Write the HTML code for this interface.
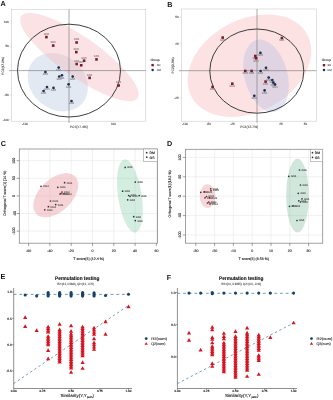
<!DOCTYPE html>
<html><head><meta charset="utf-8"><style>
html,body{margin:0;padding:0;background:#fff;}
svg{display:block;will-change:transform;filter:blur(0.3px);}
text{font-family:"Liberation Sans",sans-serif;text-rendering:geometricPrecision;}
</style></head><body>
<svg width="333" height="400" viewBox="0 0 333 400">
<rect width="333" height="400" fill="#fff"/>
<text x="0.60" y="6.20" font-size="7.2" fill="#111" text-anchor="start" font-weight="bold" >A</text>
<ellipse cx="57.80" cy="82.20" rx="32.40" ry="26.80" transform="rotate(40 57.80 82.20)" fill="#e2e9f2" stroke="none" stroke-width="0.8"/>
<ellipse cx="79.40" cy="57.10" rx="71.10" ry="19.90" transform="rotate(35.25 79.40 57.10)" fill="#f6b9c1" stroke="none" stroke-width="0.8" fill-opacity="0.42"/>
<rect x="11.50" y="9.30" width="134.30" height="111.90" fill="none" stroke="#c9c9c9" stroke-width="0.55"/>
<line x1="69.00" y1="9.30" x2="69.00" y2="123.00" stroke="#727272" stroke-width="0.6"/>
<line x1="9.00" y1="70.60" x2="145.90" y2="70.60" stroke="#727272" stroke-width="0.6"/>
<ellipse cx="69.00" cy="70.60" rx="51.50" ry="46.40" transform="rotate(0 69.00 70.60)" fill="none" stroke="#2a2a2a" stroke-width="0.9"/>
<line x1="9.60" y1="21.60" x2="11.50" y2="21.60" stroke="#c9c9c9" stroke-width="0.5"/>
<text x="8.80" y="22.70" font-size="3.0" fill="#666" text-anchor="end" font-weight="normal" stroke="#666" stroke-width="0.14" >100</text>
<line x1="9.60" y1="46.10" x2="11.50" y2="46.10" stroke="#c9c9c9" stroke-width="0.5"/>
<text x="8.80" y="47.20" font-size="3.0" fill="#666" text-anchor="end" font-weight="normal" stroke="#666" stroke-width="0.14" >50</text>
<line x1="9.60" y1="95.10" x2="11.50" y2="95.10" stroke="#c9c9c9" stroke-width="0.5"/>
<text x="8.80" y="96.20" font-size="3.0" fill="#666" text-anchor="end" font-weight="normal" stroke="#666" stroke-width="0.14" >-50</text>
<line x1="9.60" y1="119.60" x2="11.50" y2="119.60" stroke="#c9c9c9" stroke-width="0.5"/>
<text x="8.80" y="120.70" font-size="3.0" fill="#666" text-anchor="end" font-weight="normal" stroke="#666" stroke-width="0.14" >-100</text>
<line x1="25.00" y1="121.20" x2="25.00" y2="122.80" stroke="#c9c9c9" stroke-width="0.5"/>
<text x="25.00" y="125.20" font-size="3.0" fill="#666" text-anchor="middle" font-weight="normal" stroke="#666" stroke-width="0.14" >-100</text>
<line x1="113.40" y1="121.20" x2="113.40" y2="122.80" stroke="#c9c9c9" stroke-width="0.5"/>
<text x="113.40" y="125.20" font-size="3.0" fill="#666" text-anchor="middle" font-weight="normal" stroke="#666" stroke-width="0.14" >100</text>
<text x="3.80" y="66.00" font-size="3.3" fill="#666" text-anchor="middle" font-weight="normal" stroke="#666" stroke-width="0.14" transform="rotate(-90 3.80 66.00)" >PC2(17.8%)</text>
<text x="78.80" y="128.30" font-size="3.3" fill="#666" text-anchor="middle" font-weight="normal" stroke="#666" stroke-width="0.14" >PC1(17.4%)</text>
<text x="150.40" y="61.00" font-size="3.3" fill="#555" text-anchor="start" font-weight="normal" stroke="#555" stroke-width="0.14" >Group</text>
<rect x="151.40" y="63.90" width="2.4" height="2.4" fill="#7c1a2a"/>
<text x="156.80" y="66.20" font-size="2.6" fill="#666" text-anchor="start" font-weight="normal" stroke="#666" stroke-width="0.14" >SN</text>
<circle cx="152.60" cy="70.10" r="1.25" fill="#1b2f55"/>
<text x="156.80" y="71.20" font-size="2.6" fill="#666" text-anchor="start" font-weight="normal" stroke="#666" stroke-width="0.14" >NM</text>
<rect x="45.10" y="35.80" width="2.6" height="2.6" fill="#7c1a2a"/>
<text x="46.40" y="34.90" font-size="2.8" fill="#8c8c8c" text-anchor="middle" font-weight="normal" stroke="#8c8c8c" stroke-width="0.14" >SN1</text>
<rect x="51.90" y="44.30" width="2.6" height="2.6" fill="#7c1a2a"/>
<text x="53.20" y="43.40" font-size="2.8" fill="#8c8c8c" text-anchor="middle" font-weight="normal" stroke="#8c8c8c" stroke-width="0.14" >SN1</text>
<rect x="75.30" y="41.20" width="2.6" height="2.6" fill="#7c1a2a"/>
<text x="76.60" y="40.30" font-size="2.8" fill="#8c8c8c" text-anchor="middle" font-weight="normal" stroke="#8c8c8c" stroke-width="0.14" >SN1</text>
<rect x="75.00" y="50.80" width="2.6" height="2.6" fill="#7c1a2a"/>
<text x="76.30" y="49.90" font-size="2.8" fill="#8c8c8c" text-anchor="middle" font-weight="normal" stroke="#8c8c8c" stroke-width="0.14" >SN1</text>
<rect x="82.80" y="59.40" width="2.6" height="2.6" fill="#7c1a2a"/>
<text x="84.10" y="58.50" font-size="2.8" fill="#8c8c8c" text-anchor="middle" font-weight="normal" stroke="#8c8c8c" stroke-width="0.14" >SN1</text>
<rect x="75.40" y="62.70" width="2.6" height="2.6" fill="#7c1a2a"/>
<text x="76.70" y="61.80" font-size="2.8" fill="#8c8c8c" text-anchor="middle" font-weight="normal" stroke="#8c8c8c" stroke-width="0.14" >SN1</text>
<rect x="79.90" y="64.00" width="2.6" height="2.6" fill="#7c1a2a"/>
<text x="81.20" y="63.10" font-size="2.8" fill="#8c8c8c" text-anchor="middle" font-weight="normal" stroke="#8c8c8c" stroke-width="0.14" >SN1</text>
<rect x="95.20" y="58.10" width="2.6" height="2.6" fill="#7c1a2a"/>
<text x="96.50" y="57.20" font-size="2.8" fill="#8c8c8c" text-anchor="middle" font-weight="normal" stroke="#8c8c8c" stroke-width="0.14" >SN1</text>
<rect x="88.30" y="76.60" width="2.6" height="2.6" fill="#7c1a2a"/>
<text x="89.60" y="75.70" font-size="2.8" fill="#8c8c8c" text-anchor="middle" font-weight="normal" stroke="#8c8c8c" stroke-width="0.14" >SN1</text>
<rect x="117.30" y="84.20" width="2.6" height="2.6" fill="#7c1a2a"/>
<text x="118.60" y="83.30" font-size="2.8" fill="#8c8c8c" text-anchor="middle" font-weight="normal" stroke="#8c8c8c" stroke-width="0.14" >SN1</text>
<circle cx="58.70" cy="67.60" r="1.35" fill="#1b2f55"/>
<text x="58.70" y="70.90" font-size="2.8" fill="#8c8c8c" text-anchor="middle" font-weight="normal" stroke="#8c8c8c" stroke-width="0.14" >SN1</text>
<circle cx="45.40" cy="72.10" r="1.35" fill="#1b2f55"/>
<text x="45.40" y="75.40" font-size="2.8" fill="#8c8c8c" text-anchor="middle" font-weight="normal" stroke="#8c8c8c" stroke-width="0.14" >SN1</text>
<circle cx="59.20" cy="76.60" r="1.35" fill="#1b2f55"/>
<text x="59.20" y="79.90" font-size="2.8" fill="#8c8c8c" text-anchor="middle" font-weight="normal" stroke="#8c8c8c" stroke-width="0.14" >SN1</text>
<circle cx="61.90" cy="75.30" r="1.35" fill="#1b2f55"/>
<text x="61.90" y="78.60" font-size="2.8" fill="#8c8c8c" text-anchor="middle" font-weight="normal" stroke="#8c8c8c" stroke-width="0.14" >SN1</text>
<circle cx="72.70" cy="76.60" r="1.35" fill="#1b2f55"/>
<text x="72.70" y="79.90" font-size="2.8" fill="#8c8c8c" text-anchor="middle" font-weight="normal" stroke="#8c8c8c" stroke-width="0.14" >SN1</text>
<circle cx="68.60" cy="84.30" r="1.35" fill="#1b2f55"/>
<text x="68.60" y="87.60" font-size="2.8" fill="#8c8c8c" text-anchor="middle" font-weight="normal" stroke="#8c8c8c" stroke-width="0.14" >SN1</text>
<circle cx="47.00" cy="87.00" r="1.35" fill="#1b2f55"/>
<text x="47.00" y="90.30" font-size="2.8" fill="#8c8c8c" text-anchor="middle" font-weight="normal" stroke="#8c8c8c" stroke-width="0.14" >SN1</text>
<circle cx="53.50" cy="87.90" r="1.35" fill="#1b2f55"/>
<text x="53.50" y="91.20" font-size="2.8" fill="#8c8c8c" text-anchor="middle" font-weight="normal" stroke="#8c8c8c" stroke-width="0.14" >SN1</text>
<circle cx="43.60" cy="91.00" r="1.35" fill="#1b2f55"/>
<text x="43.60" y="94.30" font-size="2.8" fill="#8c8c8c" text-anchor="middle" font-weight="normal" stroke="#8c8c8c" stroke-width="0.14" >SN1</text>
<circle cx="71.50" cy="101.10" r="1.35" fill="#1b2f55"/>
<text x="71.50" y="104.40" font-size="2.8" fill="#8c8c8c" text-anchor="middle" font-weight="normal" stroke="#8c8c8c" stroke-width="0.14" >SN1</text>
<text x="167.20" y="7.20" font-size="7.2" fill="#111" text-anchor="start" font-weight="bold" >B</text>
<ellipse cx="249.40" cy="65.70" rx="65.70" ry="46.20" transform="rotate(-28.4 249.40 65.70)" fill="#fce2e3" stroke="none" stroke-width="0.8"/>
<ellipse cx="266.00" cy="75.80" rx="21.50" ry="37.00" transform="rotate(-15 266.00 75.80)" fill="rgb(185,190,225)" stroke="none" stroke-width="0.8" fill-opacity="0.42"/>
<rect x="181.30" y="9.00" width="135.10" height="112.20" fill="none" stroke="#c9c9c9" stroke-width="0.55"/>
<line x1="257.00" y1="9.00" x2="257.00" y2="123.00" stroke="#727272" stroke-width="0.6"/>
<line x1="179.00" y1="70.70" x2="316.40" y2="70.70" stroke="#727272" stroke-width="0.6"/>
<ellipse cx="256.80" cy="71.10" rx="47.00" ry="42.10" transform="rotate(0 256.80 71.10)" fill="none" stroke="#2a2a2a" stroke-width="0.9"/>
<line x1="179.50" y1="16.80" x2="181.30" y2="16.80" stroke="#c9c9c9" stroke-width="0.5"/>
<text x="178.60" y="17.90" font-size="3.0" fill="#666" text-anchor="end" font-weight="normal" stroke="#666" stroke-width="0.14" >50</text>
<line x1="179.50" y1="43.40" x2="181.30" y2="43.40" stroke="#c9c9c9" stroke-width="0.5"/>
<text x="178.60" y="44.50" font-size="3.0" fill="#666" text-anchor="end" font-weight="normal" stroke="#666" stroke-width="0.14" >25</text>
<line x1="179.50" y1="98.00" x2="181.30" y2="98.00" stroke="#c9c9c9" stroke-width="0.5"/>
<text x="178.60" y="99.10" font-size="3.0" fill="#666" text-anchor="end" font-weight="normal" stroke="#666" stroke-width="0.14" >-25</text>
<line x1="185.00" y1="121.20" x2="185.00" y2="122.80" stroke="#c9c9c9" stroke-width="0.5"/>
<text x="185.00" y="125.00" font-size="3.0" fill="#666" text-anchor="middle" font-weight="normal" stroke="#666" stroke-width="0.14" >-100</text>
<line x1="208.80" y1="121.20" x2="208.80" y2="122.80" stroke="#c9c9c9" stroke-width="0.5"/>
<text x="208.80" y="125.00" font-size="3.0" fill="#666" text-anchor="middle" font-weight="normal" stroke="#666" stroke-width="0.14" >-50</text>
<line x1="232.40" y1="121.20" x2="232.40" y2="122.80" stroke="#c9c9c9" stroke-width="0.5"/>
<text x="232.40" y="125.00" font-size="3.0" fill="#666" text-anchor="middle" font-weight="normal" stroke="#666" stroke-width="0.14" >-25</text>
<line x1="281.00" y1="121.20" x2="281.00" y2="122.80" stroke="#c9c9c9" stroke-width="0.5"/>
<text x="281.00" y="125.00" font-size="3.0" fill="#666" text-anchor="middle" font-weight="normal" stroke="#666" stroke-width="0.14" >25</text>
<line x1="305.50" y1="121.20" x2="305.50" y2="122.80" stroke="#c9c9c9" stroke-width="0.5"/>
<text x="305.50" y="125.00" font-size="3.0" fill="#666" text-anchor="middle" font-weight="normal" stroke="#666" stroke-width="0.14" >50</text>
<text x="173.80" y="65.50" font-size="3.3" fill="#666" text-anchor="middle" font-weight="normal" stroke="#666" stroke-width="0.14" transform="rotate(-90 173.80 65.50)" >PC2(8.5%)</text>
<text x="249.20" y="128.30" font-size="3.3" fill="#666" text-anchor="middle" font-weight="normal" stroke="#666" stroke-width="0.14" >PC1(13.7%)</text>
<text x="321.80" y="61.00" font-size="3.3" fill="#555" text-anchor="start" font-weight="normal" stroke="#555" stroke-width="0.14" >Group</text>
<rect x="322.80" y="64.00" width="2.4" height="2.4" fill="#7c1a2a"/>
<text x="327.60" y="66.30" font-size="2.6" fill="#666" text-anchor="start" font-weight="normal" stroke="#666" stroke-width="0.14" >SN</text>
<circle cx="324.00" cy="70.10" r="1.25" fill="#1b2f55"/>
<text x="327.60" y="71.20" font-size="2.6" fill="#666" text-anchor="start" font-weight="normal" stroke="#666" stroke-width="0.14" >NM</text>
<rect x="221.40" y="36.30" width="2.6" height="2.6" fill="#7c1a2a"/>
<text x="222.70" y="40.90" font-size="2.8" fill="#8c8c8c" text-anchor="middle" font-weight="normal" stroke="#8c8c8c" stroke-width="0.14" >SN1</text>
<rect x="280.60" y="36.80" width="2.6" height="2.6" fill="#7c1a2a"/>
<text x="281.90" y="41.40" font-size="2.8" fill="#8c8c8c" text-anchor="middle" font-weight="normal" stroke="#8c8c8c" stroke-width="0.14" >SN1</text>
<rect x="254.00" y="54.70" width="2.6" height="2.6" fill="#7c1a2a"/>
<text x="255.30" y="59.30" font-size="2.8" fill="#8c8c8c" text-anchor="middle" font-weight="normal" stroke="#8c8c8c" stroke-width="0.14" >SN1</text>
<rect x="254.70" y="57.00" width="2.6" height="2.6" fill="#7c1a2a"/>
<text x="256.00" y="61.60" font-size="2.8" fill="#8c8c8c" text-anchor="middle" font-weight="normal" stroke="#8c8c8c" stroke-width="0.14" >SN1</text>
<rect x="244.00" y="69.70" width="2.6" height="2.6" fill="#7c1a2a"/>
<text x="245.30" y="74.30" font-size="2.8" fill="#8c8c8c" text-anchor="middle" font-weight="normal" stroke="#8c8c8c" stroke-width="0.14" >SN1</text>
<rect x="250.30" y="69.70" width="2.6" height="2.6" fill="#7c1a2a"/>
<text x="251.60" y="74.30" font-size="2.8" fill="#8c8c8c" text-anchor="middle" font-weight="normal" stroke="#8c8c8c" stroke-width="0.14" >SN1</text>
<rect x="231.00" y="82.40" width="2.6" height="2.6" fill="#7c1a2a"/>
<text x="232.30" y="87.00" font-size="2.8" fill="#8c8c8c" text-anchor="middle" font-weight="normal" stroke="#8c8c8c" stroke-width="0.14" >SN1</text>
<rect x="264.30" y="80.30" width="2.6" height="2.6" fill="#7c1a2a"/>
<text x="265.60" y="84.90" font-size="2.8" fill="#8c8c8c" text-anchor="middle" font-weight="normal" stroke="#8c8c8c" stroke-width="0.14" >SN1</text>
<rect x="211.30" y="85.70" width="2.6" height="2.6" fill="#7c1a2a"/>
<text x="212.60" y="90.30" font-size="2.8" fill="#8c8c8c" text-anchor="middle" font-weight="normal" stroke="#8c8c8c" stroke-width="0.14" >SN1</text>
<circle cx="260.40" cy="52.90" r="1.35" fill="#1b2f55"/>
<text x="260.40" y="56.20" font-size="2.8" fill="#8c8c8c" text-anchor="middle" font-weight="normal" stroke="#8c8c8c" stroke-width="0.14" >SN1</text>
<circle cx="266.00" cy="67.80" r="1.35" fill="#1b2f55"/>
<text x="266.00" y="71.10" font-size="2.8" fill="#8c8c8c" text-anchor="middle" font-weight="normal" stroke="#8c8c8c" stroke-width="0.14" >SN1</text>
<circle cx="260.60" cy="71.00" r="1.35" fill="#1b2f55"/>
<text x="260.60" y="74.30" font-size="2.8" fill="#8c8c8c" text-anchor="middle" font-weight="normal" stroke="#8c8c8c" stroke-width="0.14" >SN1</text>
<circle cx="268.70" cy="77.60" r="1.35" fill="#1b2f55"/>
<text x="268.70" y="80.90" font-size="2.8" fill="#8c8c8c" text-anchor="middle" font-weight="normal" stroke="#8c8c8c" stroke-width="0.14" >SN1</text>
<circle cx="272.30" cy="80.00" r="1.35" fill="#1b2f55"/>
<text x="272.30" y="83.30" font-size="2.8" fill="#8c8c8c" text-anchor="middle" font-weight="normal" stroke="#8c8c8c" stroke-width="0.14" >SN1</text>
<circle cx="273.20" cy="82.60" r="1.35" fill="#1b2f55"/>
<text x="273.20" y="85.90" font-size="2.8" fill="#8c8c8c" text-anchor="middle" font-weight="normal" stroke="#8c8c8c" stroke-width="0.14" >SN1</text>
<circle cx="275.00" cy="84.40" r="1.35" fill="#1b2f55"/>
<text x="275.00" y="87.70" font-size="2.8" fill="#8c8c8c" text-anchor="middle" font-weight="normal" stroke="#8c8c8c" stroke-width="0.14" >SN1</text>
<circle cx="264.60" cy="90.40" r="1.35" fill="#1b2f55"/>
<text x="264.60" y="93.70" font-size="2.8" fill="#8c8c8c" text-anchor="middle" font-weight="normal" stroke="#8c8c8c" stroke-width="0.14" >SN1</text>
<circle cx="254.30" cy="95.80" r="1.35" fill="#1b2f55"/>
<text x="254.30" y="99.10" font-size="2.8" fill="#8c8c8c" text-anchor="middle" font-weight="normal" stroke="#8c8c8c" stroke-width="0.14" >SN1</text>
<text x="0.80" y="145.60" font-size="7.2" fill="#111" text-anchor="start" font-weight="bold" >C</text>
<line x1="28.60" y1="149.00" x2="28.60" y2="243.20" stroke="#e3e3e3" stroke-width="0.5"/>
<line x1="49.90" y1="149.00" x2="49.90" y2="243.20" stroke="#e3e3e3" stroke-width="0.5"/>
<line x1="71.20" y1="149.00" x2="71.20" y2="243.20" stroke="#e3e3e3" stroke-width="0.5"/>
<line x1="92.50" y1="149.00" x2="92.50" y2="243.20" stroke="#e3e3e3" stroke-width="0.5"/>
<line x1="113.80" y1="149.00" x2="113.80" y2="243.20" stroke="#e3e3e3" stroke-width="0.5"/>
<line x1="135.10" y1="149.00" x2="135.10" y2="243.20" stroke="#e3e3e3" stroke-width="0.5"/>
<line x1="156.40" y1="149.00" x2="156.40" y2="243.20" stroke="#e3e3e3" stroke-width="0.5"/>
<line x1="19.30" y1="231.10" x2="157.40" y2="231.10" stroke="#e3e3e3" stroke-width="0.5"/>
<line x1="19.30" y1="213.50" x2="157.40" y2="213.50" stroke="#e3e3e3" stroke-width="0.5"/>
<line x1="19.30" y1="195.90" x2="157.40" y2="195.90" stroke="#e3e3e3" stroke-width="0.5"/>
<line x1="19.30" y1="178.30" x2="157.40" y2="178.30" stroke="#e3e3e3" stroke-width="0.5"/>
<line x1="19.30" y1="160.70" x2="157.40" y2="160.70" stroke="#e3e3e3" stroke-width="0.5"/>
<ellipse cx="55.80" cy="195.20" rx="27.00" ry="16.30" transform="rotate(-44 55.80 195.20)" fill="#e89a9f" stroke="none" stroke-width="0.8" fill-opacity="0.43"/>
<ellipse cx="129.90" cy="196.00" rx="11.80" ry="37.00" transform="rotate(-8.6 129.90 196.00)" fill="#7fcca6" stroke="none" stroke-width="0.8" fill-opacity="0.34"/>
<rect x="19.30" y="149.00" width="138.10" height="94.20" fill="none" stroke="#8a8a8a" stroke-width="0.8"/>
<line x1="16.70" y1="231.10" x2="19.30" y2="231.10" stroke="#555" stroke-width="0.55"/>
<text x="15.50" y="231.10" font-size="3.6" fill="#333" text-anchor="middle" font-weight="normal" stroke="#333" stroke-width="0.14" transform="rotate(-90 15.50 231.10)" >-100</text>
<line x1="16.70" y1="213.50" x2="19.30" y2="213.50" stroke="#555" stroke-width="0.55"/>
<text x="15.50" y="213.50" font-size="3.6" fill="#333" text-anchor="middle" font-weight="normal" stroke="#333" stroke-width="0.14" transform="rotate(-90 15.50 213.50)" >-50</text>
<line x1="16.70" y1="195.90" x2="19.30" y2="195.90" stroke="#555" stroke-width="0.55"/>
<text x="15.50" y="195.90" font-size="3.6" fill="#333" text-anchor="middle" font-weight="normal" stroke="#333" stroke-width="0.14" transform="rotate(-90 15.50 195.90)" >0</text>
<line x1="16.70" y1="178.30" x2="19.30" y2="178.30" stroke="#555" stroke-width="0.55"/>
<text x="15.50" y="178.30" font-size="3.6" fill="#333" text-anchor="middle" font-weight="normal" stroke="#333" stroke-width="0.14" transform="rotate(-90 15.50 178.30)" >50</text>
<line x1="16.70" y1="160.70" x2="19.30" y2="160.70" stroke="#555" stroke-width="0.55"/>
<text x="15.50" y="160.70" font-size="3.6" fill="#333" text-anchor="middle" font-weight="normal" stroke="#333" stroke-width="0.14" transform="rotate(-90 15.50 160.70)" >100</text>
<line x1="28.60" y1="243.20" x2="28.60" y2="246.00" stroke="#555" stroke-width="0.55"/>
<text x="28.60" y="251.80" font-size="3.6" fill="#333" text-anchor="middle" font-weight="normal" stroke="#333" stroke-width="0.14" >-60</text>
<line x1="49.90" y1="243.20" x2="49.90" y2="246.00" stroke="#555" stroke-width="0.55"/>
<text x="49.90" y="251.80" font-size="3.6" fill="#333" text-anchor="middle" font-weight="normal" stroke="#333" stroke-width="0.14" >-40</text>
<line x1="71.20" y1="243.20" x2="71.20" y2="246.00" stroke="#555" stroke-width="0.55"/>
<text x="71.20" y="251.80" font-size="3.6" fill="#333" text-anchor="middle" font-weight="normal" stroke="#333" stroke-width="0.14" >-20</text>
<line x1="92.50" y1="243.20" x2="92.50" y2="246.00" stroke="#555" stroke-width="0.55"/>
<text x="92.50" y="251.80" font-size="3.6" fill="#333" text-anchor="middle" font-weight="normal" stroke="#333" stroke-width="0.14" >0</text>
<line x1="113.80" y1="243.20" x2="113.80" y2="246.00" stroke="#555" stroke-width="0.55"/>
<text x="113.80" y="251.80" font-size="3.6" fill="#333" text-anchor="middle" font-weight="normal" stroke="#333" stroke-width="0.14" >20</text>
<line x1="135.10" y1="243.20" x2="135.10" y2="246.00" stroke="#555" stroke-width="0.55"/>
<text x="135.10" y="251.80" font-size="3.6" fill="#333" text-anchor="middle" font-weight="normal" stroke="#333" stroke-width="0.14" >40</text>
<line x1="156.40" y1="243.20" x2="156.40" y2="246.00" stroke="#555" stroke-width="0.55"/>
<text x="156.40" y="251.80" font-size="3.6" fill="#333" text-anchor="middle" font-weight="normal" stroke="#333" stroke-width="0.14" >60</text>
<text x="6.50" y="193.20" font-size="3.8" fill="#333" text-anchor="middle" font-weight="normal" stroke="#333" stroke-width="0.14" textLength="45.5" lengthAdjust="spacingAndGlyphs" transform="rotate(-90 6.50 193.20)" >Orthogonal T score[1] (14 %)</text>
<text x="88.80" y="260.00" font-size="3.5" fill="#333" text-anchor="middle" font-weight="normal" stroke="#333" stroke-width="0.14" textLength="31" lengthAdjust="spacingAndGlyphs" >T score[1] (12.4 %)</text>
<rect x="143.60" y="149.00" width="13.80" height="12.40" fill="#fff" stroke="#8a8a8a" stroke-width="0.5"/>
<circle cx="146.70" cy="152.70" r="0.85" fill="#3a2a2c"/>
<text x="149.60" y="154.20" font-size="3.4" fill="#222" text-anchor="start" font-weight="normal" stroke="#222" stroke-width="0.14" >DM</text>
<circle cx="146.70" cy="157.20" r="0.85" fill="#2a3530"/>
<text x="149.60" y="158.70" font-size="3.4" fill="#222" text-anchor="start" font-weight="normal" stroke="#222" stroke-width="0.14" >GS</text>
<circle cx="41.00" cy="186.30" r="0.85" fill="#6a2029"/>
<text x="43.10" y="187.20" font-size="2.6" fill="#6a6a6a" text-anchor="start" font-weight="normal" stroke="#6a6a6a" stroke-width="0.14" >DM4</text>
<circle cx="64.60" cy="182.70" r="0.85" fill="#6a2029"/>
<text x="66.70" y="183.60" font-size="2.6" fill="#6a6a6a" text-anchor="start" font-weight="normal" stroke="#6a6a6a" stroke-width="0.14" >DM4</text>
<circle cx="57.80" cy="187.30" r="0.85" fill="#6a2029"/>
<text x="59.90" y="188.20" font-size="2.6" fill="#6a6a6a" text-anchor="start" font-weight="normal" stroke="#6a6a6a" stroke-width="0.14" >DM4</text>
<circle cx="62.00" cy="192.00" r="0.85" fill="#6a2029"/>
<text x="64.10" y="192.90" font-size="2.6" fill="#6a6a6a" text-anchor="start" font-weight="normal" stroke="#6a6a6a" stroke-width="0.14" >DM4</text>
<circle cx="61.00" cy="193.60" r="0.85" fill="#6a2029"/>
<text x="63.10" y="194.50" font-size="2.6" fill="#6a6a6a" text-anchor="start" font-weight="normal" stroke="#6a6a6a" stroke-width="0.14" >DM4</text>
<circle cx="64.10" cy="193.60" r="0.85" fill="#6a2029"/>
<text x="66.20" y="194.50" font-size="2.6" fill="#6a6a6a" text-anchor="start" font-weight="normal" stroke="#6a6a6a" stroke-width="0.14" >DM4</text>
<circle cx="60.00" cy="194.00" r="0.85" fill="#6a2029"/>
<text x="62.10" y="194.90" font-size="2.6" fill="#6a6a6a" text-anchor="start" font-weight="normal" stroke="#6a6a6a" stroke-width="0.14" >DM4</text>
<circle cx="50.50" cy="201.00" r="0.85" fill="#6a2029"/>
<text x="52.60" y="201.90" font-size="2.6" fill="#6a6a6a" text-anchor="start" font-weight="normal" stroke="#6a6a6a" stroke-width="0.14" >DM4</text>
<circle cx="55.70" cy="204.60" r="0.85" fill="#6a2029"/>
<text x="57.80" y="205.50" font-size="2.6" fill="#6a6a6a" text-anchor="start" font-weight="normal" stroke="#6a6a6a" stroke-width="0.14" >DM4</text>
<circle cx="48.40" cy="206.70" r="0.85" fill="#6a2029"/>
<text x="50.50" y="207.60" font-size="2.6" fill="#6a6a6a" text-anchor="start" font-weight="normal" stroke="#6a6a6a" stroke-width="0.14" >DM4</text>
<circle cx="44.80" cy="209.80" r="0.85" fill="#6a2029"/>
<text x="46.90" y="210.70" font-size="2.6" fill="#6a6a6a" text-anchor="start" font-weight="normal" stroke="#6a6a6a" stroke-width="0.14" >DM4</text>
<circle cx="125.20" cy="167.40" r="0.85" fill="#1d3d2e"/>
<text x="127.30" y="168.30" font-size="2.6" fill="#6a6a6a" text-anchor="start" font-weight="normal" stroke="#6a6a6a" stroke-width="0.14" >GS6</text>
<circle cx="135.30" cy="182.10" r="0.85" fill="#1d3d2e"/>
<text x="137.40" y="183.00" font-size="2.6" fill="#6a6a6a" text-anchor="start" font-weight="normal" stroke="#6a6a6a" stroke-width="0.14" >GS6</text>
<circle cx="122.60" cy="191.20" r="0.85" fill="#1d3d2e"/>
<text x="124.70" y="192.10" font-size="2.6" fill="#6a6a6a" text-anchor="start" font-weight="normal" stroke="#6a6a6a" stroke-width="0.14" >GS6</text>
<circle cx="128.70" cy="195.50" r="0.85" fill="#1d3d2e"/>
<text x="130.80" y="196.40" font-size="2.6" fill="#6a6a6a" text-anchor="start" font-weight="normal" stroke="#6a6a6a" stroke-width="0.14" >GS6</text>
<circle cx="130.10" cy="196.30" r="0.85" fill="#1d3d2e"/>
<text x="132.20" y="197.20" font-size="2.6" fill="#6a6a6a" text-anchor="start" font-weight="normal" stroke="#6a6a6a" stroke-width="0.14" >GS6</text>
<circle cx="139.20" cy="195.60" r="0.85" fill="#1d3d2e"/>
<text x="141.30" y="196.50" font-size="2.6" fill="#6a6a6a" text-anchor="start" font-weight="normal" stroke="#6a6a6a" stroke-width="0.14" >GS6</text>
<circle cx="127.70" cy="199.80" r="0.85" fill="#1d3d2e"/>
<text x="129.80" y="200.70" font-size="2.6" fill="#6a6a6a" text-anchor="start" font-weight="normal" stroke="#6a6a6a" stroke-width="0.14" >GS6</text>
<circle cx="133.70" cy="216.70" r="0.85" fill="#1d3d2e"/>
<text x="135.80" y="217.60" font-size="2.6" fill="#6a6a6a" text-anchor="start" font-weight="normal" stroke="#6a6a6a" stroke-width="0.14" >GS6</text>
<circle cx="135.30" cy="220.60" r="0.85" fill="#1d3d2e"/>
<text x="137.40" y="221.50" font-size="2.6" fill="#6a6a6a" text-anchor="start" font-weight="normal" stroke="#6a6a6a" stroke-width="0.14" >GS6</text>
<text x="167.00" y="146.00" font-size="7.2" fill="#111" text-anchor="start" font-weight="bold" >D</text>
<line x1="195.80" y1="149.30" x2="195.80" y2="243.20" stroke="#e3e3e3" stroke-width="0.5"/>
<line x1="214.60" y1="149.30" x2="214.60" y2="243.20" stroke="#e3e3e3" stroke-width="0.5"/>
<line x1="233.40" y1="149.30" x2="233.40" y2="243.20" stroke="#e3e3e3" stroke-width="0.5"/>
<line x1="252.20" y1="149.30" x2="252.20" y2="243.20" stroke="#e3e3e3" stroke-width="0.5"/>
<line x1="271.00" y1="149.30" x2="271.00" y2="243.20" stroke="#e3e3e3" stroke-width="0.5"/>
<line x1="289.80" y1="149.30" x2="289.80" y2="243.20" stroke="#e3e3e3" stroke-width="0.5"/>
<line x1="308.60" y1="149.30" x2="308.60" y2="243.20" stroke="#e3e3e3" stroke-width="0.5"/>
<line x1="185.40" y1="235.00" x2="322.70" y2="235.00" stroke="#e3e3e3" stroke-width="0.5"/>
<line x1="185.40" y1="215.60" x2="322.70" y2="215.60" stroke="#e3e3e3" stroke-width="0.5"/>
<line x1="185.40" y1="196.20" x2="322.70" y2="196.20" stroke="#e3e3e3" stroke-width="0.5"/>
<line x1="185.40" y1="176.80" x2="322.70" y2="176.80" stroke="#e3e3e3" stroke-width="0.5"/>
<line x1="185.40" y1="157.40" x2="322.70" y2="157.40" stroke="#e3e3e3" stroke-width="0.5"/>
<ellipse cx="207.60" cy="196.20" rx="7.90" ry="11.90" transform="rotate(0 207.60 196.20)" fill="#e89a9f" stroke="none" stroke-width="0.8" fill-opacity="0.4"/>
<ellipse cx="297.50" cy="195.60" rx="11.30" ry="37.00" transform="rotate(0 297.50 195.60)" fill="#6fb08f" stroke="none" stroke-width="0.8" fill-opacity="0.31"/>
<rect x="185.40" y="149.30" width="137.30" height="93.90" fill="none" stroke="#8a8a8a" stroke-width="0.8"/>
<line x1="182.80" y1="235.00" x2="185.40" y2="235.00" stroke="#555" stroke-width="0.55"/>
<text x="180.90" y="235.00" font-size="3.6" fill="#333" text-anchor="middle" font-weight="normal" stroke="#333" stroke-width="0.14" transform="rotate(-90 180.90 235.00)" >-100</text>
<line x1="182.80" y1="215.60" x2="185.40" y2="215.60" stroke="#555" stroke-width="0.55"/>
<text x="180.90" y="215.60" font-size="3.6" fill="#333" text-anchor="middle" font-weight="normal" stroke="#333" stroke-width="0.14" transform="rotate(-90 180.90 215.60)" >-50</text>
<line x1="182.80" y1="196.20" x2="185.40" y2="196.20" stroke="#555" stroke-width="0.55"/>
<text x="180.90" y="196.20" font-size="3.6" fill="#333" text-anchor="middle" font-weight="normal" stroke="#333" stroke-width="0.14" transform="rotate(-90 180.90 196.20)" >0</text>
<line x1="182.80" y1="176.80" x2="185.40" y2="176.80" stroke="#555" stroke-width="0.55"/>
<text x="180.90" y="176.80" font-size="3.6" fill="#333" text-anchor="middle" font-weight="normal" stroke="#333" stroke-width="0.14" transform="rotate(-90 180.90 176.80)" >50</text>
<line x1="182.80" y1="157.40" x2="185.40" y2="157.40" stroke="#555" stroke-width="0.55"/>
<text x="180.90" y="157.40" font-size="3.6" fill="#333" text-anchor="middle" font-weight="normal" stroke="#333" stroke-width="0.14" transform="rotate(-90 180.90 157.40)" >100</text>
<line x1="195.80" y1="243.20" x2="195.80" y2="246.00" stroke="#555" stroke-width="0.55"/>
<text x="195.80" y="251.80" font-size="3.6" fill="#333" text-anchor="middle" font-weight="normal" stroke="#333" stroke-width="0.14" >-30</text>
<line x1="214.60" y1="243.20" x2="214.60" y2="246.00" stroke="#555" stroke-width="0.55"/>
<text x="214.60" y="251.80" font-size="3.6" fill="#333" text-anchor="middle" font-weight="normal" stroke="#333" stroke-width="0.14" >-20</text>
<line x1="233.40" y1="243.20" x2="233.40" y2="246.00" stroke="#555" stroke-width="0.55"/>
<text x="233.40" y="251.80" font-size="3.6" fill="#333" text-anchor="middle" font-weight="normal" stroke="#333" stroke-width="0.14" >-10</text>
<line x1="252.20" y1="243.20" x2="252.20" y2="246.00" stroke="#555" stroke-width="0.55"/>
<text x="252.20" y="251.80" font-size="3.6" fill="#333" text-anchor="middle" font-weight="normal" stroke="#333" stroke-width="0.14" >0</text>
<line x1="271.00" y1="243.20" x2="271.00" y2="246.00" stroke="#555" stroke-width="0.55"/>
<text x="271.00" y="251.80" font-size="3.6" fill="#333" text-anchor="middle" font-weight="normal" stroke="#333" stroke-width="0.14" >10</text>
<line x1="289.80" y1="243.20" x2="289.80" y2="246.00" stroke="#555" stroke-width="0.55"/>
<text x="289.80" y="251.80" font-size="3.6" fill="#333" text-anchor="middle" font-weight="normal" stroke="#333" stroke-width="0.14" >20</text>
<line x1="308.60" y1="243.20" x2="308.60" y2="246.00" stroke="#555" stroke-width="0.55"/>
<text x="308.60" y="251.80" font-size="3.6" fill="#333" text-anchor="middle" font-weight="normal" stroke="#333" stroke-width="0.14" >30</text>
<text x="171.30" y="193.90" font-size="3.8" fill="#333" text-anchor="middle" font-weight="normal" stroke="#333" stroke-width="0.14" textLength="47" lengthAdjust="spacingAndGlyphs" transform="rotate(-90 171.30 193.90)" >Orthogonal T score[1] (18.2 %)</text>
<text x="253.90" y="260.00" font-size="3.5" fill="#333" text-anchor="middle" font-weight="normal" stroke="#333" stroke-width="0.14" textLength="30.6" lengthAdjust="spacingAndGlyphs" >T score[1] (8.56 %)</text>
<rect x="310.50" y="149.30" width="12.20" height="12.00" fill="#fff" stroke="#8a8a8a" stroke-width="0.5"/>
<circle cx="312.50" cy="152.70" r="0.85" fill="#3a2a2c"/>
<text x="314.70" y="153.90" font-size="3.4" fill="#222" text-anchor="start" font-weight="normal" stroke="#222" stroke-width="0.14" >DM</text>
<circle cx="312.50" cy="157.40" r="0.85" fill="#2a3530"/>
<text x="314.70" y="158.60" font-size="3.4" fill="#222" text-anchor="start" font-weight="normal" stroke="#222" stroke-width="0.14" >GS</text>
<circle cx="210.70" cy="188.80" r="0.85" fill="#6a2029"/>
<text x="212.80" y="189.70" font-size="2.6" fill="#6a6a6a" text-anchor="start" font-weight="normal" stroke="#6a6a6a" stroke-width="0.14" >DM4</text>
<circle cx="200.80" cy="192.30" r="0.85" fill="#6a2029"/>
<text x="202.90" y="193.20" font-size="2.6" fill="#6a6a6a" text-anchor="start" font-weight="normal" stroke="#6a6a6a" stroke-width="0.14" >DM4</text>
<circle cx="205.00" cy="197.80" r="0.85" fill="#6a2029"/>
<text x="207.10" y="198.70" font-size="2.6" fill="#6a6a6a" text-anchor="start" font-weight="normal" stroke="#6a6a6a" stroke-width="0.14" >DM4</text>
<circle cx="208.80" cy="202.00" r="0.85" fill="#6a2029"/>
<text x="210.90" y="202.90" font-size="2.6" fill="#6a6a6a" text-anchor="start" font-weight="normal" stroke="#6a6a6a" stroke-width="0.14" >DM4</text>
<circle cx="206.50" cy="196.50" r="0.85" fill="#6a2029"/>
<text x="208.60" y="197.40" font-size="2.6" fill="#6a6a6a" text-anchor="start" font-weight="normal" stroke="#6a6a6a" stroke-width="0.14" >DM4</text>
<circle cx="209.50" cy="197.60" r="0.85" fill="#6a2029"/>
<text x="211.60" y="198.50" font-size="2.6" fill="#6a6a6a" text-anchor="start" font-weight="normal" stroke="#6a6a6a" stroke-width="0.14" >DM4</text>
<circle cx="207.50" cy="203.00" r="0.85" fill="#6a2029"/>
<text x="209.60" y="203.90" font-size="2.6" fill="#6a6a6a" text-anchor="start" font-weight="normal" stroke="#6a6a6a" stroke-width="0.14" >DM4</text>
<circle cx="204.50" cy="191.80" r="0.85" fill="#6a2029"/>
<text x="206.60" y="192.70" font-size="2.6" fill="#6a6a6a" text-anchor="start" font-weight="normal" stroke="#6a6a6a" stroke-width="0.14" >DM4</text>
<circle cx="211.00" cy="190.50" r="0.85" fill="#6a2029"/>
<text x="213.10" y="191.40" font-size="2.6" fill="#6a6a6a" text-anchor="start" font-weight="normal" stroke="#6a6a6a" stroke-width="0.14" >DM4</text>
<circle cx="210.00" cy="204.00" r="0.85" fill="#6a2029"/>
<text x="212.10" y="204.90" font-size="2.6" fill="#6a6a6a" text-anchor="start" font-weight="normal" stroke="#6a6a6a" stroke-width="0.14" >DM4</text>
<circle cx="299.50" cy="170.00" r="0.85" fill="#1d3d2e"/>
<text x="301.60" y="170.90" font-size="2.6" fill="#6a6a6a" text-anchor="start" font-weight="normal" stroke="#6a6a6a" stroke-width="0.14" >GS6</text>
<circle cx="288.80" cy="176.30" r="0.85" fill="#1d3d2e"/>
<text x="290.90" y="177.20" font-size="2.6" fill="#6a6a6a" text-anchor="start" font-weight="normal" stroke="#6a6a6a" stroke-width="0.14" >GS6</text>
<circle cx="300.50" cy="185.00" r="0.85" fill="#1d3d2e"/>
<text x="302.60" y="185.90" font-size="2.6" fill="#6a6a6a" text-anchor="start" font-weight="normal" stroke="#6a6a6a" stroke-width="0.14" >GS6</text>
<circle cx="298.30" cy="193.30" r="0.85" fill="#1d3d2e"/>
<text x="300.40" y="194.20" font-size="2.6" fill="#6a6a6a" text-anchor="start" font-weight="normal" stroke="#6a6a6a" stroke-width="0.14" >GS6</text>
<circle cx="302.00" cy="198.80" r="0.85" fill="#1d3d2e"/>
<text x="304.10" y="199.70" font-size="2.6" fill="#6a6a6a" text-anchor="start" font-weight="normal" stroke="#6a6a6a" stroke-width="0.14" >GS6</text>
<circle cx="298.80" cy="200.80" r="0.85" fill="#1d3d2e"/>
<text x="300.90" y="201.70" font-size="2.6" fill="#6a6a6a" text-anchor="start" font-weight="normal" stroke="#6a6a6a" stroke-width="0.14" >GS6</text>
<circle cx="300.50" cy="202.00" r="0.85" fill="#1d3d2e"/>
<text x="302.60" y="202.90" font-size="2.6" fill="#6a6a6a" text-anchor="start" font-weight="normal" stroke="#6a6a6a" stroke-width="0.14" >GS6</text>
<circle cx="289.50" cy="206.30" r="0.85" fill="#1d3d2e"/>
<text x="291.60" y="207.20" font-size="2.6" fill="#6a6a6a" text-anchor="start" font-weight="normal" stroke="#6a6a6a" stroke-width="0.14" >GS6</text>
<circle cx="293.00" cy="205.80" r="0.85" fill="#1d3d2e"/>
<text x="295.10" y="206.70" font-size="2.6" fill="#6a6a6a" text-anchor="start" font-weight="normal" stroke="#6a6a6a" stroke-width="0.14" >GS6</text>
<circle cx="297.00" cy="220.50" r="0.85" fill="#1d3d2e"/>
<text x="299.10" y="221.40" font-size="2.6" fill="#6a6a6a" text-anchor="start" font-weight="normal" stroke="#6a6a6a" stroke-width="0.14" >GS6</text>
<text x="0.60" y="279.10" font-size="7.2" fill="#111" text-anchor="start" font-weight="bold" >E</text>
<text x="55.00" y="279.90" font-size="5.2" fill="#111" text-anchor="start" font-weight="bold" textLength="44.3" lengthAdjust="spacingAndGlyphs" stroke="#111" stroke-width="0.12">Permutation testing</text>
<text x="57.40" y="285.20" font-size="3.1" fill="#333" text-anchor="start" font-weight="normal" textLength="36.4" lengthAdjust="spacingAndGlyphs" stroke="#333" stroke-width="0.06">R2=(0.0, 0.9844), Q2=(0.0, -0.74)</text>
<line x1="13.70" y1="288.00" x2="13.70" y2="388.50" stroke="#444" stroke-width="0.6"/>
<line x1="13.70" y1="388.50" x2="132.00" y2="388.50" stroke="#444" stroke-width="0.6"/>
<line x1="12.10" y1="292.10" x2="13.70" y2="292.10" stroke="#444" stroke-width="0.5"/>
<text x="11.80" y="293.20" font-size="3.3" fill="#222" text-anchor="end" font-weight="normal" stroke="#222" stroke-width="0.14" >1.0</text>
<line x1="12.10" y1="318.40" x2="13.70" y2="318.40" stroke="#444" stroke-width="0.5"/>
<text x="11.80" y="319.50" font-size="3.3" fill="#222" text-anchor="end" font-weight="normal" stroke="#222" stroke-width="0.14" >0.5</text>
<line x1="12.10" y1="344.70" x2="13.70" y2="344.70" stroke="#444" stroke-width="0.5"/>
<text x="11.80" y="345.80" font-size="3.3" fill="#222" text-anchor="end" font-weight="normal" stroke="#222" stroke-width="0.14" >0.0</text>
<line x1="12.10" y1="371.00" x2="13.70" y2="371.00" stroke="#444" stroke-width="0.5"/>
<text x="11.80" y="372.10" font-size="3.3" fill="#222" text-anchor="end" font-weight="normal" stroke="#222" stroke-width="0.14" >-0.5</text>
<line x1="13.70" y1="388.50" x2="13.70" y2="390.00" stroke="#444" stroke-width="0.5"/>
<text x="13.70" y="392.40" font-size="3.0" fill="#222" text-anchor="middle" font-weight="normal" stroke="#222" stroke-width="0.14" >0.00</text>
<line x1="42.40" y1="388.50" x2="42.40" y2="390.00" stroke="#444" stroke-width="0.5"/>
<text x="42.40" y="392.40" font-size="3.0" fill="#222" text-anchor="middle" font-weight="normal" stroke="#222" stroke-width="0.14" >0.25</text>
<line x1="71.10" y1="388.50" x2="71.10" y2="390.00" stroke="#444" stroke-width="0.5"/>
<text x="71.10" y="392.40" font-size="3.0" fill="#222" text-anchor="middle" font-weight="normal" stroke="#222" stroke-width="0.14" >0.50</text>
<line x1="99.80" y1="388.50" x2="99.80" y2="390.00" stroke="#444" stroke-width="0.5"/>
<text x="99.80" y="392.40" font-size="3.0" fill="#222" text-anchor="middle" font-weight="normal" stroke="#222" stroke-width="0.14" >0.75</text>
<line x1="128.50" y1="388.50" x2="128.50" y2="390.00" stroke="#444" stroke-width="0.5"/>
<text x="128.50" y="392.40" font-size="3.0" fill="#222" text-anchor="middle" font-weight="normal" stroke="#222" stroke-width="0.14" >1.00</text>
<line x1="13.70" y1="294.40" x2="128.50" y2="294.40" stroke="#5089a6" stroke-width="0.85" stroke-dasharray="2.8 2.9"/>
<line x1="13.70" y1="383.60" x2="128.50" y2="305.40" stroke="#5089a6" stroke-width="0.8" stroke-dasharray="2.4 2.6"/>
<path d="M25.18 315.37L27.28 319.03L23.08 319.03Z" fill="#d81420"/>
<path d="M25.18 324.27L27.28 327.93L23.08 327.93Z" fill="#d81420"/>
<path d="M36.66 328.37L38.76 332.03L34.56 332.03Z" fill="#d81420"/>
<path d="M48.14 324.63L50.29 328.37L45.99 328.37Z" fill="#d81420"/>
<path d="M48.14 326.33L50.29 330.07L45.99 330.07Z" fill="#d81420"/>
<path d="M48.14 328.03L50.29 331.77L45.99 331.77Z" fill="#d81420"/>
<path d="M48.14 329.73L50.29 333.47L45.99 333.47Z" fill="#d81420"/>
<path d="M48.14 334.13L50.29 337.87L45.99 337.87Z" fill="#d81420"/>
<path d="M48.14 335.83L50.29 339.57L45.99 339.57Z" fill="#d81420"/>
<path d="M48.14 337.53L50.29 341.27L45.99 341.27Z" fill="#d81420"/>
<path d="M48.14 339.23L50.29 342.97L45.99 342.97Z" fill="#d81420"/>
<path d="M48.14 340.93L50.29 344.67L45.99 344.67Z" fill="#d81420"/>
<path d="M48.14 342.63L50.29 346.37L45.99 346.37Z" fill="#d81420"/>
<path d="M48.14 348.27L50.24 351.93L46.04 351.93Z" fill="#d81420"/>
<path d="M48.14 356.57L50.24 360.23L46.04 360.23Z" fill="#d81420"/>
<path d="M59.62 321.97L61.72 325.63L57.52 325.63Z" fill="#d81420"/>
<path d="M59.62 327.43L61.77 331.17L57.47 331.17Z" fill="#d81420"/>
<path d="M59.62 329.13L61.77 332.87L57.47 332.87Z" fill="#d81420"/>
<path d="M59.62 330.83L61.77 334.57L57.47 334.57Z" fill="#d81420"/>
<path d="M59.62 332.53L61.77 336.27L57.47 336.27Z" fill="#d81420"/>
<path d="M59.62 334.23L61.77 337.97L57.47 337.97Z" fill="#d81420"/>
<path d="M59.62 335.93L61.77 339.67L57.47 339.67Z" fill="#d81420"/>
<path d="M59.62 337.63L61.77 341.37L57.47 341.37Z" fill="#d81420"/>
<path d="M59.62 339.33L61.77 343.07L57.47 343.07Z" fill="#d81420"/>
<path d="M59.62 341.03L61.77 344.77L57.47 344.77Z" fill="#d81420"/>
<path d="M59.62 342.73L61.77 346.47L57.47 346.47Z" fill="#d81420"/>
<path d="M59.62 344.43L61.77 348.17L57.47 348.17Z" fill="#d81420"/>
<path d="M59.62 346.13L61.77 349.87L57.47 349.87Z" fill="#d81420"/>
<path d="M59.62 347.83L61.77 351.57L57.47 351.57Z" fill="#d81420"/>
<path d="M59.62 349.53L61.77 353.27L57.47 353.27Z" fill="#d81420"/>
<path d="M59.62 351.23L61.77 354.97L57.47 354.97Z" fill="#d81420"/>
<path d="M59.62 352.93L61.77 356.67L57.47 356.67Z" fill="#d81420"/>
<path d="M59.62 354.63L61.77 358.37L57.47 358.37Z" fill="#d81420"/>
<path d="M59.62 356.33L61.77 360.07L57.47 360.07Z" fill="#d81420"/>
<path d="M59.62 358.03L61.77 361.77L57.47 361.77Z" fill="#d81420"/>
<path d="M59.62 359.73L61.77 363.47L57.47 363.47Z" fill="#d81420"/>
<path d="M71.10 323.57L73.20 327.23L69.00 327.23Z" fill="#d81420"/>
<path d="M71.10 328.97L73.20 332.63L69.00 332.63Z" fill="#d81420"/>
<path d="M71.10 331.73L73.25 335.47L68.95 335.47Z" fill="#d81420"/>
<path d="M71.10 333.43L73.25 337.17L68.95 337.17Z" fill="#d81420"/>
<path d="M71.10 335.13L73.25 338.87L68.95 338.87Z" fill="#d81420"/>
<path d="M71.10 336.83L73.25 340.57L68.95 340.57Z" fill="#d81420"/>
<path d="M71.10 338.53L73.25 342.27L68.95 342.27Z" fill="#d81420"/>
<path d="M71.10 340.23L73.25 343.97L68.95 343.97Z" fill="#d81420"/>
<path d="M71.10 341.93L73.25 345.67L68.95 345.67Z" fill="#d81420"/>
<path d="M71.10 343.63L73.25 347.37L68.95 347.37Z" fill="#d81420"/>
<path d="M71.10 345.33L73.25 349.07L68.95 349.07Z" fill="#d81420"/>
<path d="M71.10 347.03L73.25 350.77L68.95 350.77Z" fill="#d81420"/>
<path d="M71.10 348.73L73.25 352.47L68.95 352.47Z" fill="#d81420"/>
<path d="M71.10 350.43L73.25 354.17L68.95 354.17Z" fill="#d81420"/>
<path d="M71.10 352.13L73.25 355.87L68.95 355.87Z" fill="#d81420"/>
<path d="M71.10 353.83L73.25 357.57L68.95 357.57Z" fill="#d81420"/>
<path d="M71.10 355.53L73.25 359.27L68.95 359.27Z" fill="#d81420"/>
<path d="M71.10 357.23L73.25 360.97L68.95 360.97Z" fill="#d81420"/>
<path d="M71.10 358.93L73.25 362.67L68.95 362.67Z" fill="#d81420"/>
<path d="M71.10 360.63L73.25 364.37L68.95 364.37Z" fill="#d81420"/>
<path d="M71.10 362.33L73.25 366.07L68.95 366.07Z" fill="#d81420"/>
<path d="M71.10 364.03L73.25 367.77L68.95 367.77Z" fill="#d81420"/>
<path d="M71.10 365.73L73.25 369.47L68.95 369.47Z" fill="#d81420"/>
<path d="M71.10 369.97L73.20 373.63L69.00 373.63Z" fill="#d81420"/>
<path d="M82.58 324.63L84.73 328.37L80.43 328.37Z" fill="#d81420"/>
<path d="M82.58 326.33L84.73 330.07L80.43 330.07Z" fill="#d81420"/>
<path d="M82.58 328.03L84.73 331.77L80.43 331.77Z" fill="#d81420"/>
<path d="M82.58 329.73L84.73 333.47L80.43 333.47Z" fill="#d81420"/>
<path d="M82.58 331.43L84.73 335.17L80.43 335.17Z" fill="#d81420"/>
<path d="M82.58 333.13L84.73 336.87L80.43 336.87Z" fill="#d81420"/>
<path d="M82.58 334.83L84.73 338.57L80.43 338.57Z" fill="#d81420"/>
<path d="M82.58 336.53L84.73 340.27L80.43 340.27Z" fill="#d81420"/>
<path d="M82.58 338.23L84.73 341.97L80.43 341.97Z" fill="#d81420"/>
<path d="M82.58 339.93L84.73 343.67L80.43 343.67Z" fill="#d81420"/>
<path d="M82.58 341.63L84.73 345.37L80.43 345.37Z" fill="#d81420"/>
<path d="M82.58 343.33L84.73 347.07L80.43 347.07Z" fill="#d81420"/>
<path d="M82.58 345.03L84.73 348.77L80.43 348.77Z" fill="#d81420"/>
<path d="M82.58 346.73L84.73 350.47L80.43 350.47Z" fill="#d81420"/>
<path d="M82.58 348.43L84.73 352.17L80.43 352.17Z" fill="#d81420"/>
<path d="M82.58 350.13L84.73 353.87L80.43 353.87Z" fill="#d81420"/>
<path d="M82.58 351.83L84.73 355.57L80.43 355.57Z" fill="#d81420"/>
<path d="M82.58 353.53L84.73 357.27L80.43 357.27Z" fill="#d81420"/>
<path d="M82.58 360.27L84.68 363.93L80.48 363.93Z" fill="#d81420"/>
<path d="M82.58 366.17L84.68 369.83L80.48 369.83Z" fill="#d81420"/>
<path d="M94.06 325.67L96.16 329.33L91.96 329.33Z" fill="#d81420"/>
<path d="M94.06 327.77L96.16 331.43L91.96 331.43Z" fill="#d81420"/>
<path d="M94.06 329.97L96.16 333.63L91.96 333.63Z" fill="#d81420"/>
<path d="M94.06 332.17L96.16 335.83L91.96 335.83Z" fill="#d81420"/>
<path d="M94.06 336.47L96.16 340.13L91.96 340.13Z" fill="#d81420"/>
<path d="M94.06 340.47L96.16 344.13L91.96 344.13Z" fill="#d81420"/>
<path d="M94.06 342.67L96.16 346.33L91.96 346.33Z" fill="#d81420"/>
<path d="M94.06 344.87L96.16 348.53L91.96 348.53Z" fill="#d81420"/>
<path d="M94.06 347.17L96.16 350.83L91.96 350.83Z" fill="#d81420"/>
<path d="M105.54 319.57L107.64 323.23L103.44 323.23Z" fill="#d81420"/>
<path d="M105.54 332.07L107.64 335.73L103.44 335.73Z" fill="#d81420"/>
<path d="M128.50 304.47L130.60 308.13L126.40 308.13Z" fill="#d81420"/>
<circle cx="25.18" cy="295.00" r="1.55" fill="#17406b"/>
<circle cx="36.66" cy="295.90" r="1.55" fill="#17406b"/>
<rect x="46.59" y="291.05" width="3.1" height="6.50" rx="1.55" fill="#17406b"/>
<rect x="58.07" y="290.95" width="3.1" height="6.70" rx="1.55" fill="#17406b"/>
<rect x="69.55" y="290.95" width="3.1" height="6.70" rx="1.55" fill="#17406b"/>
<rect x="81.03" y="290.95" width="3.1" height="6.70" rx="1.55" fill="#17406b"/>
<rect x="92.51" y="291.15" width="3.1" height="6.30" rx="1.55" fill="#17406b"/>
<circle cx="105.54" cy="295.50" r="1.55" fill="#17406b"/>
<circle cx="128.50" cy="294.30" r="1.55" fill="#17406b"/>
<circle cx="146.20" cy="338.60" r="1.4" fill="#17406b"/>
<path d="M146.20 341.91L147.80 344.69L144.60 344.69Z" fill="#d81420"/>
<text x="151.20" y="339.90" font-size="3.6" fill="#444" text-anchor="start" font-weight="normal" stroke="#444" stroke-width="0.14" textLength="16" lengthAdjust="spacingAndGlyphs" >R2(cum)</text>
<text x="151.20" y="344.60" font-size="3.6" fill="#444" text-anchor="start" font-weight="normal" stroke="#444" stroke-width="0.14" textLength="14.2" lengthAdjust="spacingAndGlyphs" >Q2(cum)</text>
<text x="60.50" y="397.00" font-size="4.4" fill="#111" text-anchor="start" font-weight="normal" stroke="#111" stroke-width="0.1" textLength="26.3" lengthAdjust="spacingAndGlyphs" >Similarity(Y,Y</text>
<text x="87.00" y="398.30" font-size="2.6" fill="#222" text-anchor="start" font-weight="normal" stroke="#222" stroke-width="0.14" textLength="5.5" lengthAdjust="spacingAndGlyphs" >perm</text>
<text x="92.60" y="397.00" font-size="4.4" fill="#222" text-anchor="start" font-weight="normal" stroke="#222" stroke-width="0.1" >)</text>
<text x="166.80" y="279.80" font-size="7.2" fill="#111" text-anchor="start" font-weight="bold" >F</text>
<text x="219.10" y="279.90" font-size="5.2" fill="#111" text-anchor="start" font-weight="bold" textLength="44.3" lengthAdjust="spacingAndGlyphs" stroke="#111" stroke-width="0.12">Permutation testing</text>
<text x="221.50" y="285.20" font-size="3.1" fill="#333" text-anchor="start" font-weight="normal" textLength="39.7" lengthAdjust="spacingAndGlyphs" stroke="#333" stroke-width="0.06">R2=(0.0, 0.9935), Q2=(0.0, -0.40)</text>
<line x1="177.40" y1="288.00" x2="177.40" y2="388.50" stroke="#444" stroke-width="0.6"/>
<line x1="177.40" y1="388.50" x2="297.00" y2="388.50" stroke="#444" stroke-width="0.6"/>
<line x1="175.80" y1="292.50" x2="177.40" y2="292.50" stroke="#444" stroke-width="0.5"/>
<text x="175.50" y="293.60" font-size="3.3" fill="#222" text-anchor="end" font-weight="normal" stroke="#222" stroke-width="0.14" >1.0</text>
<line x1="175.80" y1="324.70" x2="177.40" y2="324.70" stroke="#444" stroke-width="0.5"/>
<text x="175.50" y="325.80" font-size="3.3" fill="#222" text-anchor="end" font-weight="normal" stroke="#222" stroke-width="0.14" >0.5</text>
<line x1="175.80" y1="356.90" x2="177.40" y2="356.90" stroke="#444" stroke-width="0.5"/>
<text x="175.50" y="358.00" font-size="3.3" fill="#222" text-anchor="end" font-weight="normal" stroke="#222" stroke-width="0.14" >0.0</text>
<line x1="177.40" y1="388.50" x2="177.40" y2="390.00" stroke="#444" stroke-width="0.5"/>
<text x="177.40" y="392.40" font-size="3.0" fill="#222" text-anchor="middle" font-weight="normal" stroke="#222" stroke-width="0.14" >0.00</text>
<line x1="206.45" y1="388.50" x2="206.45" y2="390.00" stroke="#444" stroke-width="0.5"/>
<text x="206.45" y="392.40" font-size="3.0" fill="#222" text-anchor="middle" font-weight="normal" stroke="#222" stroke-width="0.14" >0.25</text>
<line x1="235.50" y1="388.50" x2="235.50" y2="390.00" stroke="#444" stroke-width="0.5"/>
<text x="235.50" y="392.40" font-size="3.0" fill="#222" text-anchor="middle" font-weight="normal" stroke="#222" stroke-width="0.14" >0.50</text>
<line x1="264.55" y1="388.50" x2="264.55" y2="390.00" stroke="#444" stroke-width="0.5"/>
<text x="264.55" y="392.40" font-size="3.0" fill="#222" text-anchor="middle" font-weight="normal" stroke="#222" stroke-width="0.14" >0.75</text>
<line x1="293.60" y1="388.50" x2="293.60" y2="390.00" stroke="#444" stroke-width="0.5"/>
<text x="293.60" y="392.40" font-size="3.0" fill="#222" text-anchor="middle" font-weight="normal" stroke="#222" stroke-width="0.14" >1.00</text>
<line x1="177.40" y1="293.30" x2="293.60" y2="293.30" stroke="#5089a6" stroke-width="0.85" stroke-dasharray="2.8 2.9"/>
<line x1="177.40" y1="383.60" x2="293.60" y2="323.00" stroke="#5089a6" stroke-width="0.8" stroke-dasharray="2.4 2.6"/>
<path d="M189.02 330.77L191.12 334.43L186.92 334.43Z" fill="#d81420"/>
<path d="M189.02 337.97L191.12 341.63L186.92 341.63Z" fill="#d81420"/>
<path d="M200.64 347.87L202.74 351.53L198.54 351.53Z" fill="#d81420"/>
<path d="M212.26 324.97L214.36 328.63L210.16 328.63Z" fill="#d81420"/>
<path d="M212.26 327.57L214.36 331.23L210.16 331.23Z" fill="#d81420"/>
<path d="M212.26 335.27L214.36 338.93L210.16 338.93Z" fill="#d81420"/>
<path d="M212.26 337.17L214.36 340.83L210.16 340.83Z" fill="#d81420"/>
<path d="M212.26 340.67L214.36 344.33L210.16 344.33Z" fill="#d81420"/>
<path d="M212.26 344.13L214.41 347.87L210.11 347.87Z" fill="#d81420"/>
<path d="M212.26 345.83L214.41 349.57L210.11 349.57Z" fill="#d81420"/>
<path d="M212.26 347.53L214.41 351.27L210.11 351.27Z" fill="#d81420"/>
<path d="M212.26 349.23L214.41 352.97L210.11 352.97Z" fill="#d81420"/>
<path d="M212.26 350.93L214.41 354.67L210.11 354.67Z" fill="#d81420"/>
<path d="M212.26 352.63L214.41 356.37L210.11 356.37Z" fill="#d81420"/>
<path d="M212.26 361.37L214.36 365.03L210.16 365.03Z" fill="#d81420"/>
<path d="M212.26 364.17L214.36 367.83L210.16 367.83Z" fill="#d81420"/>
<path d="M223.88 331.17L225.98 334.83L221.78 334.83Z" fill="#d81420"/>
<path d="M223.88 334.37L225.98 338.03L221.78 338.03Z" fill="#d81420"/>
<path d="M223.88 336.57L225.98 340.23L221.78 340.23Z" fill="#d81420"/>
<path d="M223.88 340.63L226.03 344.37L221.73 344.37Z" fill="#d81420"/>
<path d="M223.88 342.33L226.03 346.07L221.73 346.07Z" fill="#d81420"/>
<path d="M223.88 344.03L226.03 347.77L221.73 347.77Z" fill="#d81420"/>
<path d="M223.88 345.73L226.03 349.47L221.73 349.47Z" fill="#d81420"/>
<path d="M223.88 347.43L226.03 351.17L221.73 351.17Z" fill="#d81420"/>
<path d="M223.88 349.13L226.03 352.87L221.73 352.87Z" fill="#d81420"/>
<path d="M223.88 350.83L226.03 354.57L221.73 354.57Z" fill="#d81420"/>
<path d="M223.88 352.53L226.03 356.27L221.73 356.27Z" fill="#d81420"/>
<path d="M223.88 354.23L226.03 357.97L221.73 357.97Z" fill="#d81420"/>
<path d="M223.88 355.93L226.03 359.67L221.73 359.67Z" fill="#d81420"/>
<path d="M223.88 357.63L226.03 361.37L221.73 361.37Z" fill="#d81420"/>
<path d="M223.88 359.33L226.03 363.07L221.73 363.07Z" fill="#d81420"/>
<path d="M223.88 361.03L226.03 364.77L221.73 364.77Z" fill="#d81420"/>
<path d="M223.88 362.73L226.03 366.47L221.73 366.47Z" fill="#d81420"/>
<path d="M223.88 364.43L226.03 368.17L221.73 368.17Z" fill="#d81420"/>
<path d="M223.88 366.13L226.03 369.87L221.73 369.87Z" fill="#d81420"/>
<path d="M223.88 367.83L226.03 371.57L221.73 371.57Z" fill="#d81420"/>
<path d="M223.88 369.53L226.03 373.27L221.73 373.27Z" fill="#d81420"/>
<path d="M235.50 329.37L237.60 333.03L233.40 333.03Z" fill="#d81420"/>
<path d="M235.50 334.33L237.65 338.07L233.35 338.07Z" fill="#d81420"/>
<path d="M235.50 336.03L237.65 339.77L233.35 339.77Z" fill="#d81420"/>
<path d="M235.50 337.73L237.65 341.47L233.35 341.47Z" fill="#d81420"/>
<path d="M235.50 339.43L237.65 343.17L233.35 343.17Z" fill="#d81420"/>
<path d="M235.50 341.13L237.65 344.87L233.35 344.87Z" fill="#d81420"/>
<path d="M235.50 342.83L237.65 346.57L233.35 346.57Z" fill="#d81420"/>
<path d="M235.50 344.53L237.65 348.27L233.35 348.27Z" fill="#d81420"/>
<path d="M235.50 346.23L237.65 349.97L233.35 349.97Z" fill="#d81420"/>
<path d="M235.50 347.93L237.65 351.67L233.35 351.67Z" fill="#d81420"/>
<path d="M235.50 349.63L237.65 353.37L233.35 353.37Z" fill="#d81420"/>
<path d="M235.50 351.33L237.65 355.07L233.35 355.07Z" fill="#d81420"/>
<path d="M235.50 353.03L237.65 356.77L233.35 356.77Z" fill="#d81420"/>
<path d="M235.50 354.73L237.65 358.47L233.35 358.47Z" fill="#d81420"/>
<path d="M235.50 356.43L237.65 360.17L233.35 360.17Z" fill="#d81420"/>
<path d="M235.50 358.13L237.65 361.87L233.35 361.87Z" fill="#d81420"/>
<path d="M235.50 359.83L237.65 363.57L233.35 363.57Z" fill="#d81420"/>
<path d="M235.50 361.53L237.65 365.27L233.35 365.27Z" fill="#d81420"/>
<path d="M235.50 363.23L237.65 366.97L233.35 366.97Z" fill="#d81420"/>
<path d="M235.50 364.93L237.65 368.67L233.35 368.67Z" fill="#d81420"/>
<path d="M235.50 366.63L237.65 370.37L233.35 370.37Z" fill="#d81420"/>
<path d="M235.50 368.33L237.65 372.07L233.35 372.07Z" fill="#d81420"/>
<path d="M235.50 370.03L237.65 373.77L233.35 373.77Z" fill="#d81420"/>
<path d="M235.50 371.73L237.65 375.47L233.35 375.47Z" fill="#d81420"/>
<path d="M235.50 373.43L237.65 377.17L233.35 377.17Z" fill="#d81420"/>
<path d="M235.50 375.13L237.65 378.87L233.35 378.87Z" fill="#d81420"/>
<path d="M247.12 325.77L249.22 329.43L245.02 329.43Z" fill="#d81420"/>
<path d="M247.12 330.73L249.27 334.47L244.97 334.47Z" fill="#d81420"/>
<path d="M247.12 332.43L249.27 336.17L244.97 336.17Z" fill="#d81420"/>
<path d="M247.12 334.13L249.27 337.87L244.97 337.87Z" fill="#d81420"/>
<path d="M247.12 335.83L249.27 339.57L244.97 339.57Z" fill="#d81420"/>
<path d="M247.12 337.53L249.27 341.27L244.97 341.27Z" fill="#d81420"/>
<path d="M247.12 339.23L249.27 342.97L244.97 342.97Z" fill="#d81420"/>
<path d="M247.12 340.93L249.27 344.67L244.97 344.67Z" fill="#d81420"/>
<path d="M247.12 342.63L249.27 346.37L244.97 346.37Z" fill="#d81420"/>
<path d="M247.12 344.33L249.27 348.07L244.97 348.07Z" fill="#d81420"/>
<path d="M247.12 346.03L249.27 349.77L244.97 349.77Z" fill="#d81420"/>
<path d="M247.12 347.73L249.27 351.47L244.97 351.47Z" fill="#d81420"/>
<path d="M247.12 349.43L249.27 353.17L244.97 353.17Z" fill="#d81420"/>
<path d="M247.12 351.13L249.27 354.87L244.97 354.87Z" fill="#d81420"/>
<path d="M247.12 352.83L249.27 356.57L244.97 356.57Z" fill="#d81420"/>
<path d="M247.12 354.53L249.27 358.27L244.97 358.27Z" fill="#d81420"/>
<path d="M247.12 356.23L249.27 359.97L244.97 359.97Z" fill="#d81420"/>
<path d="M247.12 357.93L249.27 361.67L244.97 361.67Z" fill="#d81420"/>
<path d="M247.12 359.63L249.27 363.37L244.97 363.37Z" fill="#d81420"/>
<path d="M247.12 361.33L249.27 365.07L244.97 365.07Z" fill="#d81420"/>
<path d="M247.12 363.03L249.27 366.77L244.97 366.77Z" fill="#d81420"/>
<path d="M247.12 364.73L249.27 368.47L244.97 368.47Z" fill="#d81420"/>
<path d="M247.12 366.43L249.27 370.17L244.97 370.17Z" fill="#d81420"/>
<path d="M247.12 368.13L249.27 371.87L244.97 371.87Z" fill="#d81420"/>
<path d="M247.12 374.17L249.22 377.83L245.02 377.83Z" fill="#d81420"/>
<path d="M258.74 332.73L260.89 336.47L256.59 336.47Z" fill="#d81420"/>
<path d="M258.74 334.43L260.89 338.17L256.59 338.17Z" fill="#d81420"/>
<path d="M258.74 336.13L260.89 339.87L256.59 339.87Z" fill="#d81420"/>
<path d="M258.74 337.83L260.89 341.57L256.59 341.57Z" fill="#d81420"/>
<path d="M258.74 339.53L260.89 343.27L256.59 343.27Z" fill="#d81420"/>
<path d="M258.74 341.23L260.89 344.97L256.59 344.97Z" fill="#d81420"/>
<path d="M258.74 342.93L260.89 346.67L256.59 346.67Z" fill="#d81420"/>
<path d="M258.74 344.63L260.89 348.37L256.59 348.37Z" fill="#d81420"/>
<path d="M258.74 346.33L260.89 350.07L256.59 350.07Z" fill="#d81420"/>
<path d="M258.74 348.03L260.89 351.77L256.59 351.77Z" fill="#d81420"/>
<path d="M258.74 353.13L260.89 356.87L256.59 356.87Z" fill="#d81420"/>
<path d="M258.74 354.83L260.89 358.57L256.59 358.57Z" fill="#d81420"/>
<path d="M258.74 356.53L260.89 360.27L256.59 360.27Z" fill="#d81420"/>
<path d="M258.74 358.23L260.89 361.97L256.59 361.97Z" fill="#d81420"/>
<path d="M258.74 372.17L260.84 375.83L256.64 375.83Z" fill="#d81420"/>
<path d="M270.36 335.37L272.46 339.03L268.26 339.03Z" fill="#d81420"/>
<path d="M293.60 320.67L295.70 324.33L291.50 324.33Z" fill="#d81420"/>
<circle cx="189.02" cy="293.10" r="1.55" fill="#17406b"/>
<circle cx="200.64" cy="293.10" r="1.55" fill="#17406b"/>
<rect x="210.71" y="290.95" width="3.1" height="4.40" rx="1.55" fill="#17406b"/>
<circle cx="223.88" cy="293.10" r="1.55" fill="#17406b"/>
<circle cx="235.50" cy="293.10" r="1.55" fill="#17406b"/>
<circle cx="247.12" cy="293.10" r="1.55" fill="#17406b"/>
<circle cx="258.74" cy="293.10" r="1.55" fill="#17406b"/>
<circle cx="270.36" cy="293.10" r="1.55" fill="#17406b"/>
<circle cx="293.60" cy="293.10" r="1.55" fill="#17406b"/>
<circle cx="311.50" cy="338.60" r="1.4" fill="#17406b"/>
<path d="M311.50 341.91L313.10 344.69L309.90 344.69Z" fill="#d81420"/>
<text x="316.50" y="339.90" font-size="3.6" fill="#444" text-anchor="start" font-weight="normal" stroke="#444" stroke-width="0.14" textLength="16" lengthAdjust="spacingAndGlyphs" >R2(cum)</text>
<text x="316.50" y="344.60" font-size="3.6" fill="#444" text-anchor="start" font-weight="normal" stroke="#444" stroke-width="0.14" textLength="14.2" lengthAdjust="spacingAndGlyphs" >Q2(cum)</text>
<text x="224.90" y="397.00" font-size="4.4" fill="#111" text-anchor="start" font-weight="normal" stroke="#111" stroke-width="0.1" textLength="26.3" lengthAdjust="spacingAndGlyphs" >Similarity(Y,Y</text>
<text x="251.40" y="398.30" font-size="2.6" fill="#222" text-anchor="start" font-weight="normal" stroke="#222" stroke-width="0.14" textLength="5.5" lengthAdjust="spacingAndGlyphs" >perm</text>
<text x="257.00" y="397.00" font-size="4.4" fill="#222" text-anchor="start" font-weight="normal" stroke="#222" stroke-width="0.1" >)</text>
</svg></body></html>
